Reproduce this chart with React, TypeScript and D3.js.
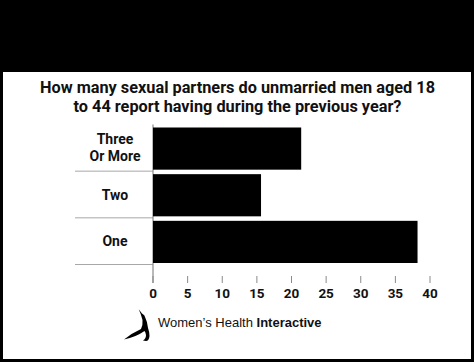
import React from "react";
import * as d3 from "d3";

// category labels, top to bottom
const categories: string[][] = [["Three", "Or More"], ["Two"], ["One"]];
// percent of unmarried men aged 18-44
const values: number[] = [21.4, 15.6, 38.2];
const xTicks: number[] = [0, 5, 10, 15, 20, 25, 30, 35, 40];
const titleLines: string[] = [
  "How many sexual partners do unmarried men aged 18",
  "to 44 report having during the previous year?",
];

const W = 474;
const H = 362;

export default function App() {
  const keys = categories.map((c) => c.join(" "));
  const x = d3.scaleLinear().domain([0, 40]).range([153, 430]);
  const y = d3.scaleBand<string>().domain(keys).range([124.5, 264.5]).padding(0);
  const bw = y.bandwidth();

  return (
    <svg
      width={W}
      height={H}
      style={{ position: "absolute", left: 0, top: 0, display: "block" }}
    >
      <rect x={0} y={0} width={W} height={H} fill="#000" />
      <rect x={3} y={72} width={W - 6} height={H - 75} fill="#fff" />

      {/* title */}
      <text
        x={237}
        textAnchor="middle"
        fontFamily="Roboto, sans-serif"
        fontWeight={700}
        fontSize={16.3}
        fill="#111"
      >
        {titleLines.map((t, i) => (
          <tspan key={i} x={237.5} y={93 + i * 19}>
            {t}
          </tspan>
        ))}
      </text>

      {/* band separators */}
      {keys.map((k) => (
        <line
          key={"sep" + k}
          x1={75}
          x2={x(0)}
          y1={(y(k) as number) + bw}
          y2={(y(k) as number) + bw}
          stroke="#a8a8a8"
          strokeWidth={1}
        />
      ))}

      {/* axis line */}
      <line x1={x(0)} x2={x(0)} y1={124.5} y2={283} stroke="#8a8a8a" strokeWidth={1.2} />

      {/* bars */}
      {keys.map((k, i) => (
        <rect
          key={"bar" + k}
          x={x(0)}
          y={(y(k) as number) + 3}
          width={x(values[i]) - x(0)}
          height={bw - 4.5}
          fill="#000"
        />
      ))}

      {/* category labels */}
      {categories.map((lines, i) => {
        const cy = (y(keys[i]) as number) + bw / 2;
        return (
          <text
            key={"lab" + i}
            textAnchor="middle"
            fontFamily="Roboto, sans-serif"
            fontWeight={700}
            fontSize={14}
            fill="#111"
          >
            {lines.map((l, j) => (
              <tspan key={j} x={115} y={cy + 5 + (j - (lines.length - 1) / 2) * 17}>
                {l}
              </tspan>
            ))}
          </text>
        );
      })}

      {/* x ticks */}
      {xTicks.map((t) => (
        <g key={"t" + t}>
          <line x1={x(t)} x2={x(t)} y1={276} y2={283} stroke="#8a8a8a" strokeWidth={1} />
          <text
            x={x(t)}
            y={298}
            textAnchor="middle"
            fontFamily="Roboto, sans-serif"
            fontWeight={700}
            fontSize={13.5}
            fill="#111"
          >
            {t}
          </text>
        </g>
      ))}

      {/* logo */}
      <path
        d="M138.7,309.3 L142,313.5 Q145,315 145,317 Q147.5,322 148,328 Q149.5,332 149.5,336 Q149,341 146,341 L143,340.5 Q146,338.5 146,335 Q145.5,332 144.5,331 Q136,337 124,339.5 Q132,333 141,329 Q143,325 142.5,320 Q141,314 138.7,309.3 Z"
        fill="#000"
      />
      <text
        x={158}
        y={327}
        fontFamily="'Liberation Sans', Arial, sans-serif"
        fontSize={13}
        fill="#111"
      >
        Women’s Health <tspan fontWeight={700}>Interactive</tspan>
      </text>
    </svg>
  );
}
